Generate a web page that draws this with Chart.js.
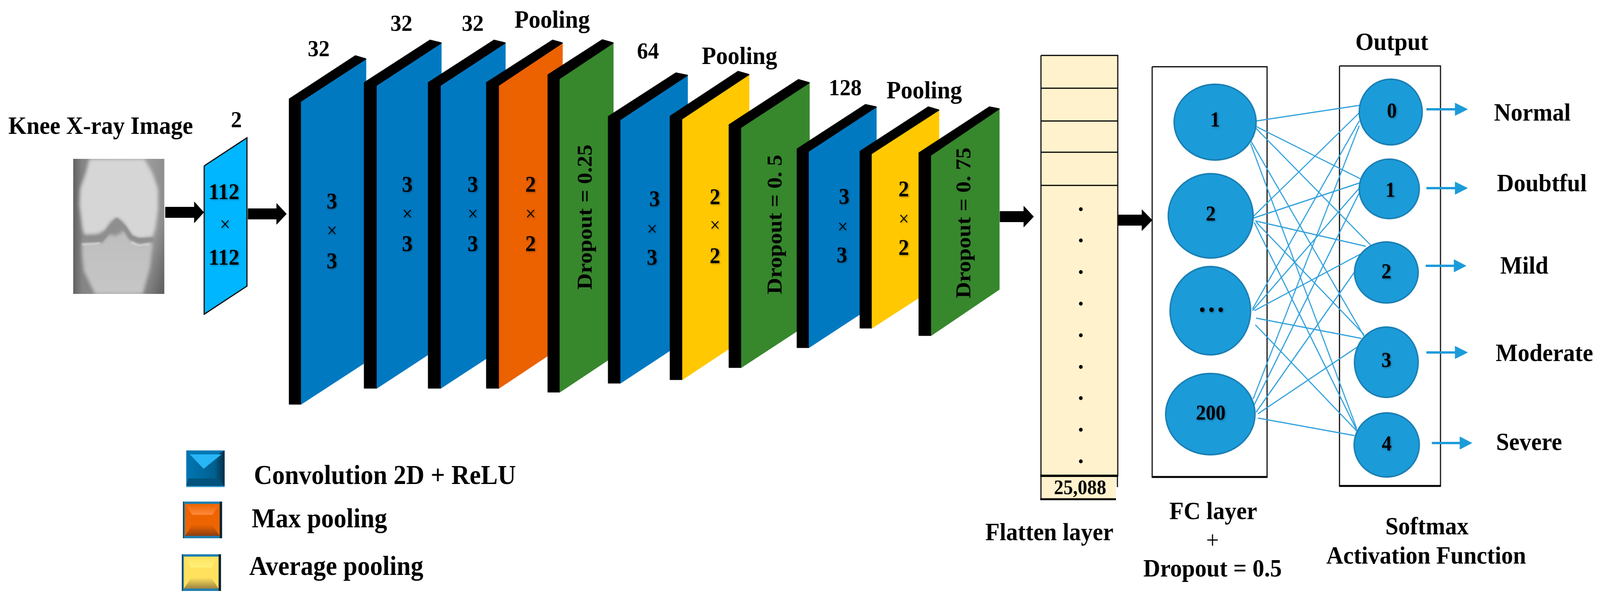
<!DOCTYPE html>
<html>
<head>
<meta charset="utf-8">
<style>
  html, body { margin: 0; padding: 0; background: #fff; overflow: hidden; }
</style>
<script src="https://cdn.jsdelivr.net/npm/chart.js@4"></script>
</head>
<body>
<!-- the browser window can be narrower than the drawing, so the bitmap is fitted to it with css -->
<canvas id="cnnChart" width="4373" height="1550" style="display:block;width:100vw;height:100vh"></canvas>
<script>
// Layer slabs, left to right
const slabX0 = [790, 995, 1170, 1329, 1497, 1662, 1831, 1992, 2178, 2350, 2511];
const slabX1 = [823, 1030, 1205, 1364, 1530, 1696, 1865, 2026, 2211, 2383, 2545];
const slabX2 = [1000, 1206, 1381, 1537, 1676, 1879, 2047, 2212, 2395, 2566, 2731];
const slabApexX = [971, 1175, 1350, 1510, 1646, 1847, 2017, 2182, 2365, 2537, 2704];
const slabApexY = [142, 102, 102, 102, 101, 186, 182, 203, 267, 273, 273];
const slabLeftTop = [253, 211, 211, 211, 191, 298, 297, 319, 381, 387, 391];
const slabFaceLeft = [261, 220, 220, 220, 203, 308, 306, 328, 389, 395, 399];
const slabFaceRight = [153, 112, 112, 112, 112, 195, 193, 214, 276, 284, 281];
const slabBottom = [1036, 995, 995, 995, 1005, 982, 973, 942, 891, 841, 860];
const slabColor = ['#0179C1', '#0179C1', '#0179C1', '#EC6100', '#37872D', '#0179C1', '#FFC800', '#37872D', '#0179C1', '#FFC800', '#37872D'];

// Black arrows
const arrowStart = [452, 678, 2733, 3055];
const arrowBase = [531, 756, 2798, 3121];
const arrowTip = [557, 783, 2825, 3149];
const arrowY = [544, 548, 555, 564];

// Blue output arrows
const outArrowStart = [3899, 3899, 3897, 3899, 3914];
const outArrowBase = [3977, 3977, 3974, 3977, 3990];
const outArrowTip = [4011, 4011, 4007, 4011, 4023];
const outArrowY = [280, 482, 681, 903, 1135];

// Flatten layer
const flattenLines = [226, 310, 390, 475];
const flattenDotsY = [536, 616, 697, 778, 859, 940, 1020, 1101, 1182];

// Neurons
const fcX = [3321, 3309, 3308, 3308];
const fcY = [313, 553, 796, 1061];
const fcRx = [112, 116, 110, 122];
const fcRy = [97, 108, 113, 104];
const outX = [3801, 3797, 3789, 3789, 3790];
const outY = [287, 484, 698, 928, 1140];
const outRx = [86, 82, 87, 87, 89];
const outRy = [84, 76, 78, 90, 82];

// Connections FC -> output
const linkX1 = [3433, 3433, 3433, 3418, 3418, 3425, 3425, 3431, 3433, 3428, 3423, 3423, 3428, 3433, 3431, 3425, 3428, 3433, 3438, 3438];
const linkY1 = [310, 324, 329, 360, 368, 555, 559, 566, 569, 570, 792, 796, 796, 815, 832, 1022, 1037, 1056, 1060, 1071];
const linkX2 = [3715, 3718, 3746, 3728, 3708, 3715, 3715, 3733, 3728, 3708, 3715, 3715, 3718, 3721, 3708, 3715, 3715, 3702, 3708, 3702];
const linkY2 = [270, 458, 628, 861, 1098, 289, 469, 631, 857, 1102, 310, 482, 651, 867, 1104, 322, 494, 697, 890, 1116];

// Legend swatches
const swatchX = [561, 553, 550];
const swatchY = [1201, 1332, 1467];

// Bold captions
const labelText = ['32', '32', '32', 'Pooling', '64', 'Pooling', '128', 'Pooling', '2', 'Knee X-ray Image', 'Output', 'Normal', 'Doubtful', 'Mild', 'Moderate', 'Severe', 'Flatten layer', 'FC layer', 'Dropout = 0.5', 'Softmax', 'Activation Function', 'Convolution 2D + ReLU', 'Max pooling', 'Average pooling', '25,088'];
const labelX = [871, 1097, 1292, 1509, 1771, 2021, 2310, 2526, 646, 275, 3804, 4188, 4214, 4166, 4221, 4179, 2868, 3316, 3314, 3900, 3898, 1052, 873, 919, 2952];
const labelY = [128, 63, 63, 54, 134, 147, 228, 235, 310, 326, 111, 292, 473, 684, 908, 1136, 1367, 1313, 1460, 1352, 1427, 1222, 1333, 1455, 1253];
const labelSize = [60, 60, 60, 64, 60, 64, 60, 64, 60, 64, 64, 64, 64, 64, 64, 64, 64, 64, 64, 64, 64, 69, 69, 69, 52];

// Text inside shapes
const innerText = ['112', '×', '112', '3', '×', '3', '3', '×', '3', '3', '×', '3', '2', '×', '2', '3', '×', '3', '2', '×', '2', '3', '×', '3', '2', '×', '2'];
const innerX = [612, 615, 612, 907, 907, 907, 1113, 1113, 1113, 1292, 1292, 1292, 1450, 1450, 1450, 1789, 1782, 1782, 1954, 1954, 1954, 2307, 2303, 2301, 2470, 2470, 2470];
const innerY = [495, 578, 663, 519, 594, 672, 476, 551, 628, 476, 551, 628, 476, 551, 628, 513, 590, 663, 508, 580, 659, 507, 584, 657, 488, 564, 638];

const nodeText = ['1', '2', '…', '200', '0', '1', '2', '3', '4'];
const nodeX = [3321, 3309, 3311, 3309, 3804, 3800, 3789, 3789, 3790];
const nodeY = [310, 551, 780, 1061, 287, 490, 699, 926, 1140];
const nodeSize = [54, 54, 75, 54, 54, 54, 54, 54, 54];

const dropoutText = ['Dropout = 0.25', 'Dropout = 0. 5', 'Dropout = 0. 75'];
const dropoutX = [1602, 2121, 2637];
const dropoutY = [556, 575, 571];

// Rough outline of the knee picture, in its own pixels
const femurX = [44, 195, 217, 232, 232, 225, 217, 184, 164, 150, 134, 119, 104, 87, 67, 30, 25, 17, 19, 34];
const femurY = [0, 0, 37, 77, 130, 177, 200, 205, 200, 183, 160, 152, 160, 183, 193, 195, 177, 117, 77, 37];
const tibiaX = [24, 77, 97, 117, 141, 154, 181, 217, 210, 190, 60, 29, 24];
const tibiaY = [215, 215, 193, 197, 183, 207, 222, 213, 277, 347, 347, 287, 243];
const gapX = [24, 77, 97, 119, 141, 157, 177, 220];
const gapY = [207, 207, 183, 157, 177, 200, 208, 207];

function makeCanvas(w, h) {
    const c = document.createElement('canvas');
    c.width = w;
    c.height = h;
    return c;
}

function outlinePath(ctx, xs, ys) {
    ctx.beginPath();
    xs.forEach((x, i) => i ? ctx.lineTo(x, ys[i]) : ctx.moveTo(x, ys[i]));
}

function makeEllipse(rx, ry) {
    const c = makeCanvas(rx * 2 + 8, ry * 2 + 8);
    const ctx = c.getContext('2d');
    ctx.beginPath();
    ctx.ellipse(rx + 4, ry + 4, rx, ry, 0, 0, Math.PI * 2);
    ctx.fillStyle = '#1C9BD9';
    ctx.fill();
    ctx.lineWidth = 4;
    ctx.strokeStyle = '#1A7FB3';
    ctx.stroke();
    return c;
}

function makeKnee() {
    const c = makeCanvas(249, 346);
    const ctx = c.getContext('2d');
    const bg = ctx.createLinearGradient(0, 0, 249, 0);
    bg.addColorStop(0, '#626262');
    bg.addColorStop(0.1, '#858585');
    bg.addColorStop(0.85, '#9A9A9A');
    bg.addColorStop(1, '#8E8E8E');
    ctx.fillStyle = bg;
    ctx.fillRect(0, 0, 249, 346);
    const shade = ctx.createLinearGradient(0, 240, 249, 346);
    shade.addColorStop(0.7, 'rgba(60,60,60,0)');
    shade.addColorStop(1, 'rgba(60,60,60,0.6)');
    ctx.fillStyle = shade;
    ctx.fillRect(0, 0, 249, 346);
    ctx.filter = 'blur(5px)';
    const shin = ctx.createLinearGradient(0, 190, 0, 346);
    shin.addColorStop(0, '#BEBEBE');
    shin.addColorStop(1, '#C6C6C6');
    ctx.fillStyle = shin;
    outlinePath(ctx, tibiaX, tibiaY);
    ctx.fill();
    ctx.fillStyle = '#D6D6D6';
    outlinePath(ctx, femurX, femurY);
    ctx.fill();
    ctx.filter = 'blur(2px)';
    ctx.strokeStyle = '#8F8F8F';
    ctx.lineWidth = 11;
    ctx.lineJoin = 'round';
    outlinePath(ctx, gapX, gapY);
    ctx.stroke();
    ctx.filter = 'blur(2px)';
    ctx.strokeStyle = '#DDDDDD';
    ctx.lineWidth = 4;
    outlinePath(ctx, [24, 50, 74], [219, 218, 216]);
    ctx.stroke();
    outlinePath(ctx, [158, 180, 210], [214, 222, 218]);
    ctx.stroke();
    ctx.filter = 'none';
    return c;
}

// light, main, dark are the bevel colours, edge is the frame on top and bottom
function makeSwatch(light, main, dark, side, edge) {
    const w = 107, h = 94;
    const c = makeCanvas(w, h);
    const ctx = c.getContext('2d');
    ctx.fillStyle = edge;
    ctx.fillRect(0, 0, w, h);
    ctx.fillStyle = main;
    ctx.fillRect(6, 6, w - 12, h - 12);
    const top = ctx.createLinearGradient(0, 6, 0, 34);
    top.addColorStop(0, main);
    top.addColorStop(1, light);
    ctx.fillStyle = top;
    outlinePath(ctx, [6, w - 6, w - 26, 26], [6, 6, 34, 34]);
    ctx.fill();
    const low = ctx.createLinearGradient(0, h - 34, 0, h - 6);
    low.addColorStop(0, main);
    low.addColorStop(1, dark);
    ctx.fillStyle = low;
    outlinePath(ctx, [6, w - 6, w - 26, 26], [h - 6, h - 6, h - 34, h - 34]);
    ctx.fill();
    ctx.fillStyle = side;
    ctx.fillRect(w - 6, 0, 6, h);
    ctx.fillRect(0, 0, 3, h);
    return c;
}

function makeBlueSwatch() {
    const w = 105, h = 94;
    const c = makeCanvas(w, h);
    const ctx = c.getContext('2d');
    const base = ctx.createLinearGradient(0, 0, w, 0);
    base.addColorStop(0, '#0077B5');
    base.addColorStop(0.75, '#01608F');
    base.addColorStop(1, '#012F4A');
    ctx.fillStyle = base;
    ctx.fillRect(0, 0, w, h);
    ctx.fillStyle = '#29B6F6';
    outlinePath(ctx, [10, w - 8, 48], [10, 10, 47]);
    ctx.fill();
    ctx.fillStyle = '#0077B5';
    outlinePath(ctx, [0, w, w - 18, 18], [0, 0, 10, 10]);
    ctx.fill();
    ctx.fillStyle = '#01527C';
    outlinePath(ctx, [0, w, w - 14, 6], [h, h, h - 22, h - 22]);
    ctx.fill();
    ctx.fillStyle = '#3A9BCB';
    ctx.fillRect(0, h - 3, w, 3);
    return c;
}

// Every shape is a dataset on the same two hidden linear scales
const shapes = [];

function polygon(xs, ys, fillColor, lineColor, lineWidth) {
    const pts = xs.map((x, i) => ({ x: x, y: ys[i] }));
    pts.push({ x: xs[0], y: ys[0] });
    shapes.push({
        data: pts,
        showLine: true,
        fill: fillColor ? 'shape' : false,
        backgroundColor: fillColor || 'transparent',
        borderColor: lineColor,
        borderWidth: lineWidth,
        pointRadius: 0,
        tension: 0
    });
}

function segment(x1, y1, x2, y2, color, width) {
    shapes.push({
        data: [{ x: x1, y: y1 }, { x: x2, y: y2 }],
        showLine: true,
        fill: false,
        borderColor: color,
        borderWidth: width,
        pointRadius: 0
    });
}

function stamp(xs, ys, images) {
    shapes.push({
        data: xs.map((x, i) => ({ x: x, y: ys[i] })),
        showLine: false,
        pointRadius: 1,
        pointStyle: ctx => images[ctx.dataIndex]
    });
}

function arrow(x0, xb, xt, y, half, headHalf, color) {
    polygon(
        [x0, xb, xb, xt, xb, xb, x0],
        [y - half, y - half, y - headHalf, y, y + headHalf, y + half, y + half],
        color, color, 1
    );
}

// picture and input panel
stamp([324.5], [580], [makeKnee()]);
polygon([558, 675, 675, 558], [425, 353, 733, 805], '#00B6FF', '#000', 3);

// slabs, each one over the one before it
slabX0.forEach((x0, i) => {
    polygon(
        [x0, slabApexX[i], slabX2[i], slabX2[i], slabX1[i], slabX1[i], x0],
        [slabLeftTop[i], slabApexY[i], slabFaceRight[i] - 3, slabFaceRight[i], slabFaceLeft[i], slabBottom[i], slabBottom[i]],
        '#000', '#000', 1
    );
    polygon(
        [slabX1[i], slabX2[i], slabX2[i], slabX1[i]],
        [slabFaceLeft[i], slabFaceRight[i], slabBottom[i] - (slabFaceLeft[i] - slabFaceRight[i]), slabBottom[i]],
        slabColor[i], slabColor[i], 1
    );
});

arrowStart.forEach((x, i) => arrow(x, arrowBase[i], arrowTip[i], arrowY[i], 13.5, 27, '#000'));

// flatten column
polygon([2845, 3055, 3055, 2845], [142, 142, 1219, 1219], '#FFF2CC', '#000', 3);
flattenLines.forEach(y => segment(2845, y, 3055, y, '#000', 3));
polygon([2845, 3049, 3049, 2845], [1219, 1219, 1280, 1280], '#FFF2CC', '#FFF2CC', 1);
segment(2845, 1217, 2845, 1280, '#000', 3);
segment(3054, 1217, 3054, 1248, '#000', 3);
segment(2843, 1219, 3056, 1219, '#000', 6);
segment(2843, 1279, 3050, 1279, '#000', 5);
shapes.push({
    data: flattenDotsY.map(y => ({ x: 2954, y: y })),
    showLine: false,
    pointRadius: 5,
    pointBackgroundColor: '#000',
    pointBorderWidth: 0
});

// FC and output boxes
polygon([3149, 3463, 3463, 3149], [171, 171, 1222, 1222], null, '#000', 3);
segment(3148, 1222, 3464, 1222, '#000', 5);
polygon([3661, 3937, 3937, 3661], [169, 169, 1245, 1245], null, '#000', 3);
segment(3660, 1245, 3938, 1245, '#000', 5);

linkX1.forEach((x, i) => segment(x, linkY1[i], linkX2[i], linkY2[i], '#2FA0DC', 3));

stamp(fcX, fcY, fcRx.map((r, i) => makeEllipse(r, fcRy[i])));
stamp(outX, outY, outRx.map((r, i) => makeEllipse(r, outRy[i])));

outArrowStart.forEach((x, i) => arrow(x, outArrowBase[i], outArrowTip[i], outArrowY[i], 2.5, 16, '#1C9BD9'));

// legend
stamp(swatchX, swatchY, [
    makeBlueSwatch(),
    makeSwatch('#FF8A3C', '#ED6400', '#8C3F12', '#06222F', '#1F7FB0'),
    makeSwatch('#FFF27A', '#FFE15E', '#9C8340', '#06222F', '#1F7FB0')
]);

// first dataset is painted last by default, so give later shapes the lower order
shapes.forEach((s, i) => { s.order = shapes.length - i; });

const serif = '"Liberation Serif", "Times New Roman", serif';

const textPlugin = {
    id: 'diagramText',
    afterDatasetsDraw(chart) {
        const ctx = chart.ctx;
        const sx = chart.scales.x;
        const sy = chart.scales.y;
        ctx.save();
        ctx.textAlign = 'center';
        ctx.textBaseline = 'middle';
        ctx.fillStyle = '#000';

        labelText.forEach((t, i) => {
            ctx.font = 'bold ' + labelSize[i] + 'px ' + serif;
            ctx.fillText(t, sx.getPixelForValue(labelX[i]), sy.getPixelForValue(labelY[i]));
        });
        ctx.font = '62px ' + serif;
        ctx.fillText('+', sx.getPixelForValue(3314), sy.getPixelForValue(1388));

        ctx.shadowColor = 'rgba(0,0,0,0.35)';
        ctx.shadowBlur = 4;
        ctx.shadowOffsetX = 2;
        ctx.shadowOffsetY = 2;
        innerText.forEach((t, i) => {
            ctx.font = t === '×' ? '50px ' + serif : 'bold 58px ' + serif;
            ctx.fillText(t, sx.getPixelForValue(innerX[i]), sy.getPixelForValue(innerY[i]));
        });
        nodeText.forEach((t, i) => {
            ctx.font = 'bold ' + nodeSize[i] + 'px ' + serif;
            ctx.fillText(t, sx.getPixelForValue(nodeX[i]), sy.getPixelForValue(nodeY[i]));
        });
        ctx.shadowColor = 'transparent';

        ctx.font = 'bold 58px ' + serif;
        dropoutText.forEach((t, i) => {
            ctx.save();
            ctx.translate(sx.getPixelForValue(dropoutX[i]), sy.getPixelForValue(dropoutY[i]));
            ctx.rotate(-Math.PI / 2);
            ctx.fillText(t, 0, 0);
            ctx.restore();
        });
        ctx.restore();
    }
};

const cnnChart = new Chart(document.getElementById('cnnChart'), {
    type: 'scatter',
    data: { datasets: shapes },
    options: {
        responsive: false,
        animation: false,
        devicePixelRatio: 1,
        layout: { autoPadding: false, padding: 0 },
        events: [],
        plugins: {
            legend: { display: false },
            tooltip: { enabled: false }
        },
        scales: {
            x: { type: 'linear', min: 0, max: 4373, display: false },
            y: { type: 'linear', min: 0, max: 1550, reverse: true, display: false }
        }
    },
    plugins: [textPlugin]
});
</script>
</body>
</html>
